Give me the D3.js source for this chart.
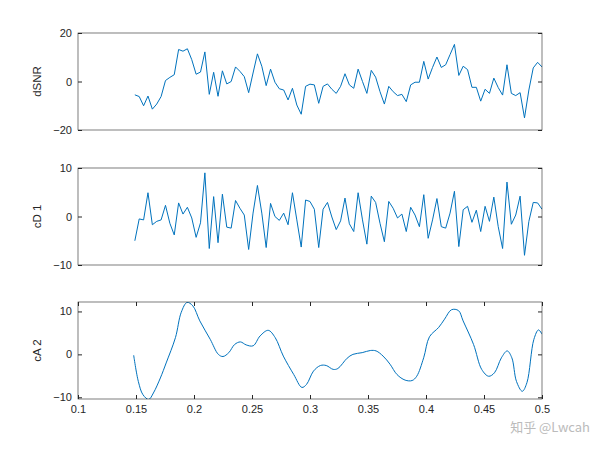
<!DOCTYPE html>
<html><head><meta charset="utf-8">
<script src="https://cdn.jsdelivr.net/npm/d3@7"></script>
<style>body{margin:0;background:#fff}svg{font-family:Arial,"Liberation Sans",sans-serif}</style>
</head><body><svg id="c" width="600" height="450"></svg>
<script>
const tStart = 0.149, tEnd = 0.5;
const dSNR = [-5.5,-6.2,-10,-6,-11.4,-9.3,-6.2,0.4,1.7,2.8,13.2,12.5,13.5,9,3,3.9,12.2,-5.3,3.8,-6.1,4.4,-1,0,6,4.2,2,-4.6,3.5,11.4,6.3,-1.7,5.1,-0.3,-3,-3.5,-7.6,
 -2.8,-9.7,-13.5,-2,-1.1,-1.4,-9,-2,-1,-3.2,-4.9,-2,3.2,-1.4,-2.8,5.1,0,-4.9,4.6,1.8,-4.2,-9.3,-2,-4.2,-5.8,-5.3,-8.3,-1.4,-0.3,-0.3,8.3,1,5.8,10.1,5.8,6.9,11.1,15.3,2.5,6.3,4.9,-2.4,-2.4,-8.1,-3.2,-4.9,1.4,-2.5,-5.6,6.9,-4.9,-5.8,-4.6,-15,-3.5,5.6,7.9,6];
const cD1 = [-5,-0.5,-0.7,4.9,-1.7,-1,-0.7,2.3,-1.4,-3.8,2.8,0.5,1.9,-0.3,-4.3,-1.3,9,-6.6,4.1,-5.4,4.6,-2.2,-2.4,3.3,1.7,0.3,-6.8,0.7,6.4,0.7,-6.4,2.7,0,-0.8,0.7,-1.7,
 4.9,-0.7,-6.3,3.4,3.1,1.5,-6.4,1.5,2.9,-0.1,-2.7,-0.9,3.8,-1.5,-3.1,4.9,-0.7,-5.7,4.2,2.9,-1.4,-5.2,3.1,1.7,-0.3,0.5,-3.1,1.9,0.3,-2.1,4.5,-4.5,-0.7,3.7,-2.1,-2.4,0.7,5.2,-6.2,1.4,2.1,-1.2,1.3,-3.1,2.1,-1,4,-2.1,-6.6,7.1,-1.6,0.3,4.2,-8,-1,2.9,2.8,1.5];
const cA2_t = [0.148,0.152,0.156,0.161,0.165,0.171,0.176,0.184,0.189,0.194,0.199,0.205,0.214,0.221,0.225,0.230,0.235,0.240,0.245,0.251,0.257,0.264,0.270,0.277,0.286,0.293,0.297,0.303,0.309,0.314,0.320,0.324,0.332,0.337,0.345,0.352,0.357,0.363,0.369,0.375,0.382,0.388,0.392,0.398,0.403,0.411,0.416,0.422,0.428,0.432,0.441,0.448,0.454,0.459,0.465,0.470,0.474,0.478,0.483,0.487,0.493,0.497,0.500];
const cA2 = [-0.2,-6.3,-9.4,-10.5,-9,-5.5,-2,3.9,9.8,12.1,11.3,7.8,3.5,0,-0.5,0.4,2.3,2.9,2.2,2,4.3,5.6,3.9,-0.4,-4.7,-7.7,-7,-3.9,-2.6,-2.6,-3.5,-3.3,-0.9,0,0.4,0.9,0.8,-0.4,-2.3,-4.7,-6,-6.1,-5.1,-0.8,4.1,6.3,8.2,10.4,10.2,7.8,2.3,-3.5,-5.1,-4.3,-0.8,0.8,-0.8,-6.3,-8.6,-6.6,3.5,5.7,4.7];
const xTicks = [0.1,0.15,0.2,0.25,0.3,0.35,0.4,0.45,0.5];
const xTickLabels = ["0.1","0.15","0.2","0.25","0.3","0.35","0.4","0.45","0.5"];

const svg = d3.select("#c");
const L=78,R=542;
const x = d3.scaleLinear().domain([0.1,0.5]).range([L,R]);
const idx = d3.scaleLinear().domain([0,dSNR.length-1]).range([tStart,tEnd]);
const panels = [
 {top:33,bot:130,dom:[-20,20],ticks:[-20,0,20],label:"dSNR",data:dSNR.map((v,i)=>[idx(i),v]),curve:d3.curveLinear,xl:false},
 {top:168,bot:265,dom:[-10,10],ticks:[-10,0,10],label:"cD 1",data:cD1.map((v,i)=>[idx(i),v]),curve:d3.curveLinear,xl:false},
 {top:302,bot:399,dom:[-10.4,12.2],ticks:[-10,0,10],label:"cA 2",data:cA2.map((v,i)=>[cA2_t[i],v]),curve:d3.curveCatmullRom,xl:true}
];
const ac="#262626";
panels.forEach((p,k)=>{
  const y=d3.scaleLinear().domain(p.dom).range([p.bot,p.top]);
  const g=svg.append("g");
  g.append("defs").append("clipPath").attr("id","cp"+k).append("rect").attr("x",L).attr("y",p.top).attr("width",R-L).attr("height",p.bot-p.top);
  g.append("path").datum(p.data).attr("clip-path",`url(#cp${k})`).attr("fill","none").attr("stroke","#0072BD").attr("stroke-width",1)
   .attr("d",d3.line().x(d=>x(d[0])).y(d=>y(d[1])).curve(p.curve));
  g.append("rect").attr("x",L).attr("y",p.top).attr("width",R-L).attr("height",p.bot-p.top).attr("fill","none").attr("stroke",ac).attr("stroke-width",0.6);
  const ya=g.append("g").attr("transform",`translate(${L},0)`).call(d3.axisLeft(y).tickValues(p.ticks).tickSize(-4).tickPadding(6));
  const yb=g.append("g").attr("transform",`translate(${R},0)`).call(d3.axisRight(y).tickValues(p.ticks).tickSize(-4).tickFormat(""));
  [ya,yb].forEach(a=>{a.select(".domain").remove();a.selectAll("line").attr("stroke",ac);a.selectAll("text").attr("fill",ac).attr("font-size",11);});
  if(p.xl){
    const xa=g.append("g").attr("transform",`translate(0,${p.bot})`).call(d3.axisBottom(x).tickValues(xTicks).tickFormat((d,i)=>xTickLabels[i]).tickSize(-4).tickPadding(6));
    const xb=g.append("g").attr("transform",`translate(0,${p.top})`).call(d3.axisTop(x).tickValues(xTicks).tickSize(-4).tickFormat(""));
    [xa,xb].forEach(a=>{a.select(".domain").remove();a.selectAll("line").attr("stroke",ac);a.selectAll("text").attr("fill",ac).attr("font-size",11);});
  }
  g.append("text").attr("transform",`translate(${L-37},${(p.top+p.bot)/2}) rotate(-90)`).attr("text-anchor","middle")
   .attr("font-size",11.5).attr("fill",ac).text(p.label);
});
svg.append("text").attr("x",590).attr("y",432).attr("text-anchor","end").attr("font-size",13)
 .attr("font-family","'Noto Sans CJK SC',sans-serif").attr("fill","#bbb").text("知乎 @Lwcah");
</script></body></html>
